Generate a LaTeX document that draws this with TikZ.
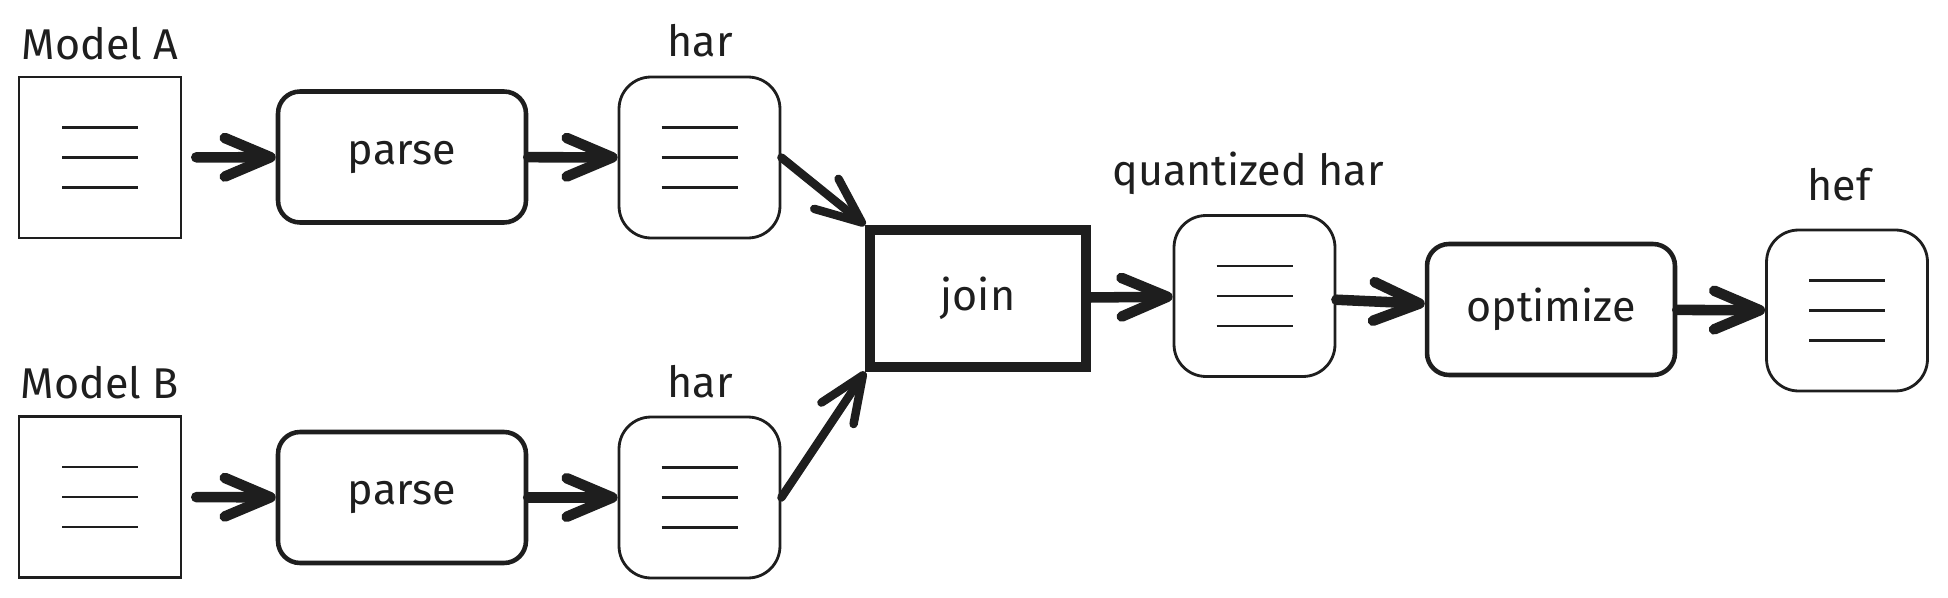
\documentclass[tikz,border=0pt]{standalone}
\usepackage{fontspec}
\setmainfont{Fira Sans}
\usetikzlibrary{arrows.meta, calc}

\definecolor{ink}{HTML}{1E1E1E}
\newcommand\sketchfont{\fontsize{24.5}{28}\selectfont}
\newcommand\filelines[1]{%
  \foreach \dy in {-30,0,30}
    \draw[docline] ($(#1.center)+(-38,\dy)$) -- ($(#1.center)+(38,\dy)$);}

\tikzset{
  docbox/.style={draw=ink, line width=1.4pt, minimum width=3.24cm, minimum height=3.22cm, inner sep=0pt},
  filebox/.style={draw=ink, line width=1.6pt, rounded corners=0.64cm, minimum width=3.22cm, minimum height=3.22cm, inner sep=0pt},
  stepbox/.style={draw=ink, text=ink, line width=2.6pt, rounded corners=0.44cm, minimum width=4.96cm, minimum height=2.62cm, font=\sketchfont},
  joinbox/.style={draw=ink, text=ink, line width=5.5pt, minimum width=4.32cm, minimum height=2.74cm, font=\sketchfont},
  caption/.style={anchor=base, inner sep=0pt, text=ink, font=\sketchfont},
  docline/.style={ink, line width=1.4pt},
  flow/.style={ink, line width=6pt, line cap=round, -{Straight Barb[length=26pt, width=22pt, round]}}
}

\begin{document}
\begin{tikzpicture}[x=0.02cm, y=-0.02cm]
\useasboundingbox (0,0) rectangle (1948,598);

% inputs
\node[docbox] (modelA) at (100,157.5) {};
\node[docbox] (modelB) at (100,497) {};
\node[caption] (capA) at (100,60) {Model A};
\node[caption] (capB) at (100,398) {Model B};
\filelines{modelA}
\filelines{modelB}

% parse steps
\node[stepbox] (parseA) at (402,157) {parse};
\node[stepbox] (parseB) at (402,497.5) {parse};

% har files
\node[filebox] (harA) at (699.5,157.5) {};
\node[filebox] (harB) at (699.5,497.5) {};
\node[caption] (capharA) at (700,57) {har};
\node[caption] (capharB) at (700,397) {har};
\filelines{harA}
\filelines{harB}

% join and output chain
\node[joinbox] (join) at (978,298.5) {join};
\node[filebox] (qhar) at (1254.5,296) {};
\node[caption] (capqhar) at (1248,185) {quantized har};
\filelines{qhar}
\node[stepbox] (opt) at (1551,309.5) {optimize};
\node[filebox] (hef) at (1847,310.5) {};
\node[caption] (caphef) at (1839,200) {hef};
\filelines{hef}

% arrows
\draw[flow, shorten <=8] (modelA) -- (parseA);
\draw[flow, shorten <=8] (modelB) -- (parseB);
\draw[flow] (parseA) -- (harA);
\draw[flow] (parseB) -- (harB);
\draw[flow, line width=4.8pt] (harA.east) -- (join.north west);
\draw[flow, line width=4.8pt] (harB.east) -- (join.south west);
\draw[flow] (join) -- (qhar);
\draw[flow] (qhar) -- (opt);
\draw[flow] (opt) -- (hef);
\end{tikzpicture}
\end{document}
